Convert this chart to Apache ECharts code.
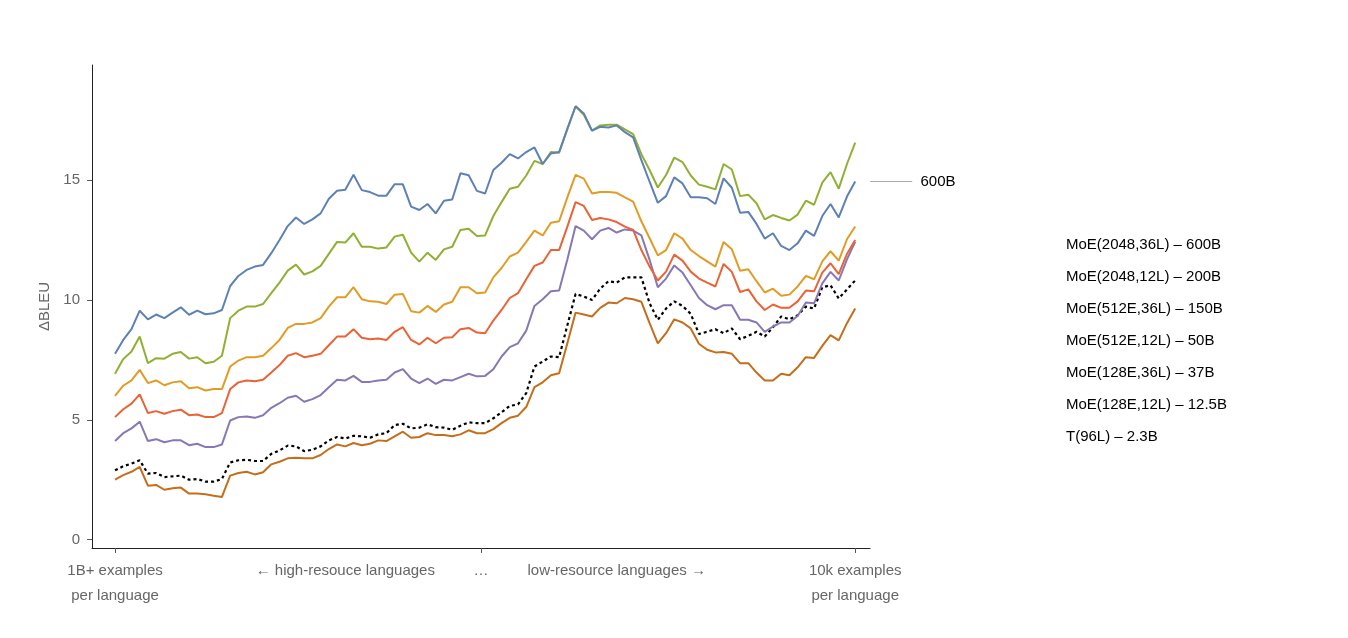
<!DOCTYPE html>
<html>
<head>
<meta charset="utf-8">
<script src="https://cdn.jsdelivr.net/npm/echarts@6/dist/echarts.min.js"></script>
<style>html,body{margin:0;padding:0;background:#fff}#main{width:1348px;height:638px}</style>
</head>
<body>
<div id="main"></div>
<script>
// language index 0..90, from high-resource to low-resource
var moe600 = [7.75,8.33,8.78,9.55,9.19,9.39,9.24,9.47,9.69,9.38,9.55,9.4,9.44,9.58,10.58,11.0,11.25,11.39,11.46,11.95,12.5,13.08,13.44,13.17,13.36,13.61,14.22,14.55,14.6,15.22,14.58,14.5,14.35,14.35,14.83,14.82,13.89,13.75,14.0,13.61,14.14,14.19,15.28,15.2,14.55,14.44,15.42,15.72,16.08,15.9,16.17,16.36,15.67,16.11,16.17,17.15,18.08,17.78,17.06,17.22,17.19,17.28,17.0,16.78,15.83,14.93,14.05,14.33,15.11,14.86,14.28,14.28,14.24,14.0,15.07,14.68,13.64,13.67,13.17,12.56,12.78,12.25,12.08,12.36,12.89,12.67,13.5,14.0,13.44,14.31,14.94];
var moe200 = [6.0,6.42,6.64,7.08,6.53,6.64,6.44,6.56,6.61,6.31,6.36,6.22,6.28,6.28,7.22,7.47,7.61,7.61,7.67,7.99,8.33,8.83,9.0,9.0,9.06,9.24,9.72,10.11,10.11,10.53,10.03,9.94,9.92,9.83,10.22,10.25,9.53,9.47,9.75,9.5,9.81,9.92,10.53,10.53,10.28,10.31,10.94,11.33,11.81,11.97,12.42,12.89,12.69,13.22,13.28,14.28,15.22,15.06,14.44,14.5,14.5,14.47,14.28,14.1,13.28,12.57,11.86,12.08,12.78,12.56,12.08,11.83,11.61,11.39,12.42,12.11,11.22,11.28,10.78,10.31,10.47,10.17,10.22,10.56,11.0,10.86,11.61,12.03,11.64,12.53,13.06];
var moe150 = [6.92,7.53,7.85,8.47,7.36,7.57,7.55,7.75,7.83,7.55,7.61,7.36,7.42,7.67,9.24,9.55,9.72,9.72,9.83,10.28,10.72,11.22,11.47,11.06,11.19,11.42,11.92,12.42,12.39,12.78,12.22,12.22,12.14,12.19,12.64,12.72,11.97,11.6,11.97,11.67,12.11,12.22,12.92,12.97,12.67,12.69,13.5,14.08,14.64,14.72,15.19,15.8,15.67,16.17,16.14,17.11,18.08,17.72,17.06,17.28,17.31,17.31,17.11,16.92,16.08,15.42,14.69,15.21,15.94,15.75,15.19,14.81,14.72,14.61,15.67,15.44,14.33,14.39,14.03,13.36,13.54,13.42,13.31,13.56,14.14,13.97,14.89,15.33,14.64,15.67,16.56];
var moe50 = [5.11,5.44,5.67,6.06,5.28,5.36,5.25,5.36,5.42,5.19,5.22,5.11,5.11,5.28,6.28,6.56,6.64,6.61,6.67,6.97,7.28,7.67,7.78,7.61,7.67,7.75,8.11,8.47,8.47,8.78,8.42,8.36,8.39,8.33,8.67,8.86,8.33,8.14,8.42,8.19,8.42,8.44,8.78,8.83,8.64,8.61,9.14,9.58,10.08,10.28,10.86,11.42,11.56,12.08,12.08,13.06,14.08,13.92,13.33,13.42,13.36,13.25,13.06,12.92,12.08,11.39,10.81,11.18,11.89,11.64,11.18,10.89,10.72,10.56,11.5,11.17,10.33,10.44,9.94,9.58,9.81,9.67,9.67,9.94,10.39,10.36,11.14,11.53,11.08,11.92,12.5];
var moe37 = [4.11,4.44,4.64,4.92,4.11,4.19,4.06,4.14,4.14,3.94,4.0,3.86,3.86,3.97,4.97,5.11,5.14,5.08,5.19,5.5,5.69,5.92,6.0,5.75,5.86,6.03,6.36,6.67,6.64,6.83,6.58,6.58,6.64,6.67,6.97,7.11,6.72,6.53,6.72,6.5,6.67,6.64,6.78,6.92,6.81,6.83,7.11,7.64,8.03,8.19,8.72,9.75,10.03,10.36,10.39,11.69,13.08,12.89,12.53,12.89,13.0,12.81,12.94,12.89,12.69,11.67,10.53,10.89,11.44,11.14,10.61,10.08,9.78,9.61,9.78,9.78,9.17,9.17,9.06,8.67,8.89,9.06,9.06,9.33,9.89,9.86,10.69,11.17,10.81,11.69,12.42];
var moe12 = [2.5,2.69,2.83,3.03,2.25,2.28,2.08,2.14,2.17,1.92,1.92,1.89,1.83,1.78,2.67,2.78,2.83,2.72,2.81,3.14,3.25,3.39,3.42,3.39,3.39,3.53,3.78,3.97,3.89,4.03,3.94,4.0,4.14,4.11,4.31,4.5,4.25,4.28,4.44,4.36,4.36,4.31,4.39,4.56,4.44,4.44,4.61,4.86,5.08,5.17,5.53,6.36,6.56,6.86,6.94,8.19,9.47,9.39,9.31,9.67,9.89,9.86,10.08,10.03,9.92,9.03,8.19,8.61,9.19,9.06,8.81,8.17,7.92,7.81,7.83,7.75,7.36,7.36,6.97,6.64,6.64,6.92,6.86,7.19,7.61,7.58,8.08,8.53,8.31,9.03,9.64];
var dense = [2.89,3.06,3.17,3.31,2.75,2.78,2.61,2.64,2.67,2.5,2.53,2.42,2.42,2.53,3.22,3.31,3.33,3.28,3.28,3.58,3.72,3.92,3.89,3.69,3.75,3.89,4.14,4.28,4.22,4.33,4.31,4.25,4.39,4.44,4.78,4.83,4.64,4.67,4.81,4.69,4.67,4.58,4.75,4.89,4.86,4.86,5.06,5.31,5.58,5.64,6.11,7.22,7.43,7.64,7.61,8.94,10.25,10.14,10.0,10.47,10.78,10.72,10.94,10.94,10.94,9.86,9.17,9.64,9.94,9.75,9.42,8.58,8.67,8.78,8.61,8.81,8.36,8.5,8.67,8.47,8.86,9.31,9.19,9.36,9.72,9.64,10.53,10.61,10.06,10.44,10.81];

var seriesNames = ['MoE(2048,36L) – 600B','MoE(2048,12L) – 200B','MoE(512E,36L) – 150B','MoE(512E,12L) – 50B','MoE(128E,36L) – 37B','MoE(128E,12L) – 12.5B','T(96L) – 2.3B'];
var seriesData = [moe600, moe200, moe150, moe50, moe37, moe12, dense];
var colors = ['#5e81b5','#e19c24','#8fb032','#eb6235','#8778b3','#c56e1a','#000000'];
var xLabelPos = [0, 28, 44.5, 61, 90];
var xLabelText = ['1B+ examples\nper language','← high-resouce languages','…','low-resource languages →','10k examples\nper language'];
var yTicks = [0, 5, 10, 15];

var font = 'Liberation Sans, Arial, sans-serif';
var series = [];
for (var s = 0; s < seriesData.length; s++) {
	var pts = [];
	for (var i = 0; i < seriesData[s].length; i++) pts.push([i, seriesData[s][i]]);
	var item = {
		name: seriesNames[s],
		type: 'line',
		data: pts,
		symbol: 'none',
		z: 10 - s,
		lineStyle: { color: colors[s], width: s == 6 ? 2.2 : 2, type: s == 6 ? [3, 3] : 'solid' },
		itemStyle: { color: colors[s] }
	};
	if (s == 0) {
		item.endLabel = {
			show: true,
			distance: 15,
			formatter: '{ln|}  600B',
			color: '#000',
			fontSize: 15,
			fontFamily: font,
			rich: { ln: { width: 42, height: 1, backgroundColor: '#aaaaaa' } }
		};
	}
	series.push(item);
}

var legendData = [];
for (var k = 0; k < seriesNames.length; k++) legendData.push({ name: seriesNames[k], icon: 'none' });

var myChart = echarts.init(document.getElementById('main'));
myChart.setOption({
	animation: false,
	textStyle: { fontFamily: font },
	grid: { left: 92, right: 478, top: 65, bottom: 90, containLabel: false },
	legend: {
		orient: 'vertical',
		left: 998,
		top: 232,
		itemWidth: 58,
		itemHeight: 14,
		itemGap: 17,
		itemStyle: { opacity: 0 },
		textStyle: { fontSize: 15, color: '#000', fontFamily: font },
		data: legendData
	},
	xAxis: {
		type: 'value',
		min: -2.8,
		max: 91.8,
		splitLine: { show: false },
		axisLine: { onZero: false, lineStyle: { color: '#222', width: 1 } },
		axisTick: { customValues: [0, 44.5, 90], length: 5, lineStyle: { color: '#555' } },
		axisLabel: {
			customValues: xLabelPos,
			color: '#666',
			fontSize: 15,
			lineHeight: 25,
			margin: 10,
			formatter: function (v) {
				var k = xLabelPos.indexOf(v);
				return k >= 0 ? xLabelText[k] : '';
			}
		}
	},
	yAxis: {
		type: 'value',
		min: -0.35,
		max: 19.8,
		name: 'ΔBLEU',
		nameLocation: 'middle',
		nameGap: 36,
		nameTextStyle: { color: '#666', fontSize: 15 },
		splitLine: { show: false },
		axisLine: { show: true, onZero: false, lineStyle: { color: '#222', width: 1 } },
		axisTick: { show: true, customValues: yTicks, length: 5, lineStyle: { color: '#555' } },
		axisLabel: { customValues: yTicks, color: '#666', fontSize: 15, margin: 12 }
	},
	series: series
});
</script>
</body>
</html>
